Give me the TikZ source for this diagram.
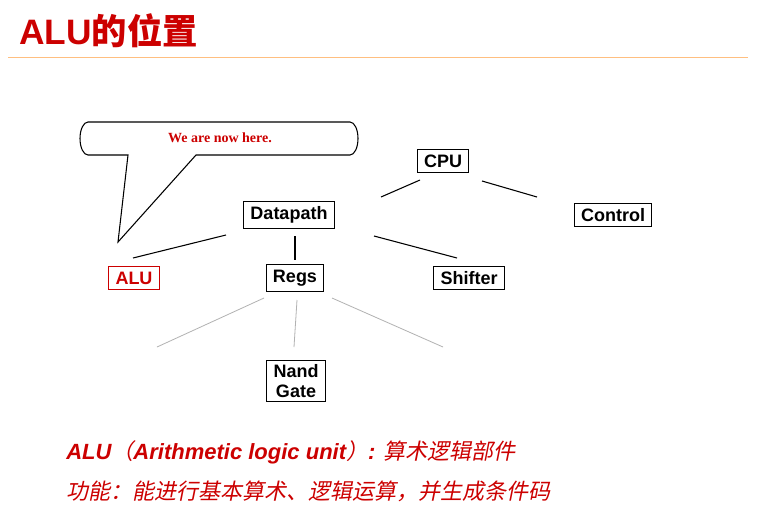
\documentclass[tikz,border=0pt]{standalone}
\usepackage{fontspec}
\setmainfont{Liberation Sans}
\newfontfamily\cjk{Noto Sans CJK SC}
\newfontfamily\cjkit[FakeSlant=0.2]{Noto Sans CJK SC}
\newfontfamily\serifb{Liberation Serif}
\definecolor{tred}{RGB}{204,0,0}
\begin{document}
\begin{tikzpicture}[x=0.75pt,y=-0.75pt,
  box/.style={draw,line width=0.8pt,font=\bfseries\fontsize{13.5}{14}\selectfont,inner xsep=5pt,inner ysep=4pt,align=center},
  ln/.style={line width=0.8pt},
  gl/.style={line width=0.6pt,gray!60}]
\fill[white] (0,0) rectangle (763,508);
\useasboundingbox (0,0) rectangle (763,508);
\node[anchor=west,text=tred,font=\bfseries\fontsize{26.5}{28}\selectfont,inner sep=0] (title) at (19,31) {ALU{\cjk 的位置}};
\draw[orange!50,line width=0.6pt] (8,57) coordinate (l1) -- (748,57) coordinate (l2);
\node[box] (cpu) at (443,161) {CPU};
\node[box] (dp) at (289,215) {Datapath};
\node[box] (ctl) at (613,215) {Control};
\node[box,draw=tred,text=tred] (alu) at (134,278) {ALU};
\node[box] (regs) at (295,278) {Regs};
\node[box] (sh) at (469,278) {Shifter};
\node[box,font=\bfseries\fontsize{13.5}{15}\selectfont,inner ysep=3pt] (nand) at (296,381) {Nand\\Gate};
\coordinate (a1) at (381,197); \coordinate (a2) at (420,180);
\coordinate (b1) at (482,181); \coordinate (b2) at (537,197);
\coordinate (c1) at (226,235); \coordinate (c2) at (133,258);
\coordinate (d1) at (295,236); \coordinate (d2) at (295,260);
\coordinate (e1) at (374,236); \coordinate (e2) at (457,258);
\draw[ln] (a1)--(a2); \draw[ln] (b1)--(b2);
\draw[ln] (c1)--(c2); \draw[ln] (d1)--(d2); \draw[ln] (e1)--(e2);
\coordinate (f1) at (264,298); \coordinate (f2) at (157,347);
\coordinate (g1) at (297,300); \coordinate (g2) at (294,347);
\coordinate (h1) at (332,298); \coordinate (h2) at (443,347);
\draw[gl] (f1)--(f2); \draw[gl] (g1)--(g2); \draw[gl] (h1)--(h2);
\draw[line width=0.8pt,fill=white] (196,155) -- (118,242) -- (128,155) -- (88,155)
  arc[start angle=270,end angle=90,x radius=8,y radius=-16.5] -- (350,122)
  arc[start angle=90,end angle=-90,x radius=8,y radius=-16.5] -- cycle;
\node[text=tred,font=\serifb\bfseries\fontsize{10.5}{11}\selectfont] (here) at (220,138) {We are now here.};
\node[anchor=west,text=tred,inner sep=0,font=\bfseries\itshape\fontsize{16.5}{18}\selectfont] (t1) at (66,452)
 {ALU{\cjkit\mdseries （}Arithmetic logic unit{\cjkit\mdseries ）}: {\cjkit\mdseries 算术逻辑部件}};
\node[anchor=west,text=tred,inner sep=0,font=\fontsize{16.5}{18}\selectfont] (t2) at (66,491)
 {\cjkit 功能：能进行基本算术、逻辑运算，并生成条件码};
\end{tikzpicture}
\end{document}
